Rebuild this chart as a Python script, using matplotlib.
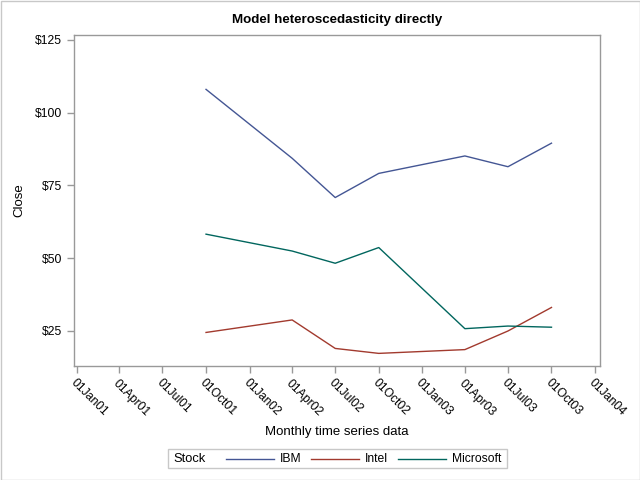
import matplotlib
matplotlib.use("Agg")
import matplotlib.pyplot as plt
from matplotlib.lines import Line2D
from matplotlib.patches import Rectangle
import datetime as dt

plt.rcParams['font.family'] = ['Liberation Sans', 'DejaVu Sans']

dates = ["2001-10-01", "2002-04-01", "2002-07-01", "2002-10-01",
         "2003-04-01", "2003-07-01", "2003-10-01"]
ibm = [108.0, 84.3, 70.8, 79.1, 85.1, 81.4, 89.5]
intel = [24.4, 28.7, 18.9, 17.2, 18.5, 24.9, 33.0]
microsoft = [58.2, 52.4, 48.2, 53.6, 25.7, 26.6, 26.2]
stocks = ["IBM", "Intel", "Microsoft"]
colors = ["#445694", "#A23A2E", "#01665E"]
yticks = [25, 50, 75, 100, 125]
tick_dates = ["2001-01-01", "2001-04-01", "2001-07-01", "2001-10-01",
              "2002-01-01", "2002-04-01", "2002-07-01", "2002-10-01",
              "2003-01-01", "2003-04-01", "2003-07-01", "2003-10-01",
              "2004-01-01"]

x = [dt.datetime.strptime(d, "%Y-%m-%d") for d in dates]
xt = [dt.datetime.strptime(d, "%Y-%m-%d") for d in tick_dates]

fig = plt.figure(figsize=(6.4, 4.8), dpi=100)
ax = fig.add_axes([74/640, 1-366/480, (600-74)/640, (366-35)/480])

for s, vals, c in zip(stocks, [ibm, intel, microsoft], colors):
    ax.plot(x, vals, color=c, lw=1.0, label=s)

ax.set_xlim(xt[0] - dt.timedelta(days=6), xt[-1] + dt.timedelta(days=10.5))
ax.set_ylim(12.86, 126.7)
ax.set_yticks(yticks)
ax.set_yticklabels([f"${v}" for v in yticks])
ax.set_xticks(xt)
ax.set_xticklabels([d.strftime("%d%b%y") for d in xt], rotation=-45,
                   ha="left", va="top", rotation_mode="anchor")
gray = "#999999"
for sp in ax.spines.values():
    sp.set_color(gray)
    sp.set_linewidth(1.0)
ax.tick_params(axis="both", colors=gray, labelcolor="black", labelsize=8.7,
               length=5, width=1)
ax.tick_params(axis="x", pad=3)
ax.set_xlabel("Monthly time series data", fontsize=9.5, labelpad=5)
ax.set_ylabel("Close", fontsize=9.5, labelpad=7)
fig.text(337/640, 1-20/480, "Model heteroscedasticity directly", ha="center",
         va="center", fontsize=9.6, fontweight="bold")

# legend
lx0, lx1, ly0, ly1 = 168/640, 507/640, 1-468/480, 1-449/480
fig.patches.append(Rectangle((lx0, ly0), lx1-lx0, ly1-ly0, transform=fig.transFigure,
                             fill=False, edgecolor="#C8C8C8", lw=1))
ly = (ly0+ly1)/2
fig.text(173/640, ly, "Stock", ha="left", va="center", fontsize=9.3)
segs = [(226, 274, 280), (311, 359, 365), (398, 446, 452)]
for (a, b, t), s, c in zip(segs, stocks, colors):
    fig.add_artist(Line2D([a/640, b/640], [ly, ly], transform=fig.transFigure,
                          color=c, lw=1))
    fig.text(t/640, ly, s, ha="left", va="center", fontsize=8.7)

fig.patches.append(Rectangle((0.5/640, 0.5/480), 639/640, 479/480,
                             transform=fig.transFigure, fill=False,
                             edgecolor="#C8C8C8", lw=1))
fig.savefig("out.png", dpi=100)
